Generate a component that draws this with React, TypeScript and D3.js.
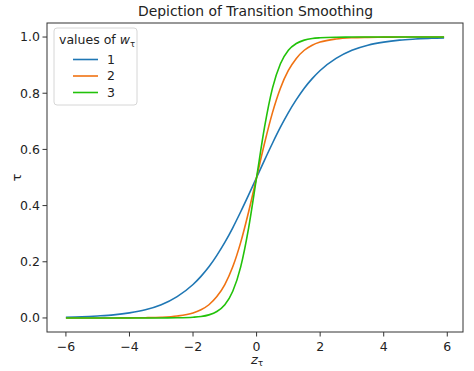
import * as d3 from "d3";

const zValues = [
  -6, -5.5, -5, -4.5, -4, -3.5, -3, -2.5, -2, -1.75, -1.5, -1.25, -1, -0.75, -0.5, -0.25,
  0, 0.25, 0.5, 0.75, 1, 1.25, 1.5, 1.75, 2, 2.5, 3, 3.5, 4, 4.5, 5, 5.5, 5.9,
];

const tauW1 = [
  0.0025, 0.004, 0.007, 0.011, 0.018, 0.029, 0.047, 0.076, 0.119, 0.148, 0.182, 0.223, 0.269,
  0.321, 0.378, 0.438, 0.5, 0.562, 0.622, 0.679, 0.731, 0.777, 0.818, 0.852, 0.881, 0.924,
  0.953, 0.971, 0.982, 0.989, 0.993, 0.996, 0.997,
];
const tauW2 = [
  0, 0, 0, 0.0001, 0.0003, 0.0009, 0.0025, 0.007, 0.018, 0.029, 0.047, 0.076, 0.119, 0.182,
  0.269, 0.378, 0.5, 0.622, 0.731, 0.818, 0.881, 0.924, 0.953, 0.971, 0.982, 0.993, 0.9975,
  0.999, 0.9997, 0.9999, 1, 1, 1,
];
const tauW3 = [
  0, 0, 0, 0, 0, 0, 0.0001, 0.0006, 0.0025, 0.005, 0.011, 0.023, 0.047, 0.095, 0.182, 0.321,
  0.5, 0.679, 0.818, 0.905, 0.953, 0.977, 0.989, 0.995, 0.9975, 0.9994, 0.9999, 1, 1, 1, 1, 1,
  1,
];

const seriesNames = ["1", "2", "3"];
const seriesValues = [tauW1, tauW2, tauW3];
const colors = ["#1f77b4", "#f07212", "#22c20a"];

const xTicks = [-6, -4, -2, 0, 2, 4, 6];
const yTicks = [0, 0.2, 0.4, 0.6, 0.8, 1.0];

const W = 474;
const H = 371;
const m = { left: 47, right: 463, top: 23, bottom: 332 };
const font = "DejaVu Sans, sans-serif";

export default function App() {
  const x = d3.scaleLinear().domain([-6.595, 6.495]).range([m.left, m.right]);
  const y = d3.scaleLinear().domain([-0.05, 1.05]).range([m.bottom, m.top]);

  const line = d3
    .line<number>()
    .x((_, i) => x(zValues[i]))
    .y((d) => y(d))
    .curve(d3.curveMonotoneX);

  return (
    <svg
      width={W}
      height={H}
      style={{ position: "absolute", left: 0, top: 0, background: "#fff" }}
      fontFamily={font}
    >
      <text x={255.5} y={16} textAnchor="middle" fontSize={13.9} fill="#222">
        Depiction of Transition Smoothing
      </text>

      {seriesValues.map((vals, i) => (
        <path key={i} d={line(vals) ?? ""} fill="none" stroke={colors[i]} strokeWidth={1.6} />
      ))}

      <rect
        x={m.left}
        y={m.top}
        width={m.right - m.left}
        height={m.bottom - m.top}
        fill="none"
        stroke="#333"
        strokeWidth={1}
      />

      {xTicks.map((t) => (
        <g key={t}>
          <line x1={x(t)} x2={x(t)} y1={m.bottom} y2={m.bottom + 4.5} stroke="#333" />
          <text x={x(t)} y={m.bottom + 18.5} textAnchor="middle" fontSize={12.5} fill="#222">
            {t < 0 ? `\u2212${-t}` : t}
          </text>
        </g>
      ))}
      {yTicks.map((t) => (
        <g key={t}>
          <line x1={m.left - 4.5} x2={m.left} y1={y(t)} y2={y(t)} stroke="#333" />
          <text
            x={m.left - 7}
            y={y(t)}
            dy="0.35em"
            textAnchor="end"
            fontSize={12.5}
            fill="#222"
          >
            {t.toFixed(1)}
          </text>
        </g>
      ))}

      <text x={257} y={364} textAnchor="middle" fontSize={13} fill="#222">
        <tspan fontStyle="italic">z</tspan>
        <tspan fontSize={9} dy={2}>τ</tspan>
      </text>
      <text
        transform={`translate(21,${y(0.5)}) rotate(-90)`}
        textAnchor="middle"
        fontSize={13}
        fill="#222"
      >
        τ
      </text>

      <g>
        <rect x={54} y={28} width={83} height={77} rx={3} fill="#fff" fillOpacity={0.8} stroke="#d6d6d6" />
        <text x={59} y={44} fontSize={12.5} fill="#222">
          values of <tspan fontStyle="italic">w</tspan>
          <tspan fontSize={8.5} dy={3}>τ</tspan>
        </text>
        {seriesNames.map((n, i) => (
          <g key={n}>
            <line
              x1={73}
              x2={98}
              y1={59.5 + i * 16.5}
              y2={59.5 + i * 16.5}
              stroke={colors[i]}
              strokeWidth={1.6}
            />
            <text x={107} y={59.5 + i * 16.5} dy="0.35em" fontSize={12.5} fill="#222">
              {n}
            </text>
          </g>
        ))}
      </g>
    </svg>
  );
}
